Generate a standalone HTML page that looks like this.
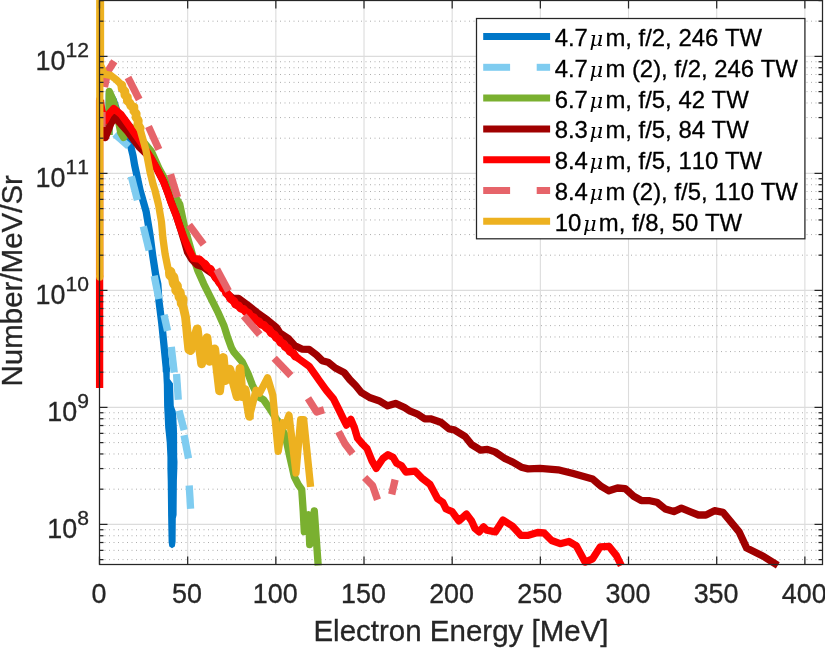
<!DOCTYPE html>
<html><head><meta charset="utf-8"><title>Electron spectra</title>
<style>html,body{margin:0;padding:0;background:#fff;}svg{display:block;}text{font-family:"Liberation Sans",sans-serif;font-kerning:none;fill:#262626;stroke:#262626;stroke-width:0.3px;}.lg{fill:#000;stroke:#000;stroke-width:0.3px;}.mu{font-family:"DejaVu Serif","Liberation Serif",serif;font-style:italic;stroke:none;font-size:21px;}</style>
</head><body>
<svg width="825" height="648" viewBox="0 0 825 648">
<rect width="825" height="648" fill="#fff"/>
<g stroke="#dcdcdc" stroke-width="1.1" fill="none">
<line x1="187.67" y1="0.5" x2="187.67" y2="564.5"/>
<line x1="275.84" y1="0.5" x2="275.84" y2="564.5"/>
<line x1="364.01" y1="0.5" x2="364.01" y2="564.5"/>
<line x1="452.18" y1="0.5" x2="452.18" y2="564.5"/>
<line x1="540.35" y1="0.5" x2="540.35" y2="564.5"/>
<line x1="628.52" y1="0.5" x2="628.52" y2="564.5"/>
<line x1="716.70" y1="0.5" x2="716.70" y2="564.5"/>
<line x1="804.87" y1="0.5" x2="804.87" y2="564.5"/>
<line x1="99.5" y1="524.40" x2="822.5" y2="524.40"/>
<line x1="99.5" y1="407.40" x2="822.5" y2="407.40"/>
<line x1="99.5" y1="290.40" x2="822.5" y2="290.40"/>
<line x1="99.5" y1="173.40" x2="822.5" y2="173.40"/>
<line x1="99.5" y1="56.40" x2="822.5" y2="56.40"/>
</g>
<g stroke="#adadad" stroke-width="1" stroke-dasharray="1 3.5" fill="none">
<line x1="104.5" y1="559.62" x2="822.5" y2="559.62"/>
<line x1="104.5" y1="550.36" x2="822.5" y2="550.36"/>
<line x1="104.5" y1="542.52" x2="822.5" y2="542.52"/>
<line x1="104.5" y1="535.74" x2="822.5" y2="535.74"/>
<line x1="104.5" y1="529.75" x2="822.5" y2="529.75"/>
<line x1="104.5" y1="489.18" x2="822.5" y2="489.18"/>
<line x1="104.5" y1="468.58" x2="822.5" y2="468.58"/>
<line x1="104.5" y1="453.96" x2="822.5" y2="453.96"/>
<line x1="104.5" y1="442.62" x2="822.5" y2="442.62"/>
<line x1="104.5" y1="433.36" x2="822.5" y2="433.36"/>
<line x1="104.5" y1="425.52" x2="822.5" y2="425.52"/>
<line x1="104.5" y1="418.74" x2="822.5" y2="418.74"/>
<line x1="104.5" y1="412.75" x2="822.5" y2="412.75"/>
<line x1="104.5" y1="372.18" x2="822.5" y2="372.18"/>
<line x1="104.5" y1="351.58" x2="822.5" y2="351.58"/>
<line x1="104.5" y1="336.96" x2="822.5" y2="336.96"/>
<line x1="104.5" y1="325.62" x2="822.5" y2="325.62"/>
<line x1="104.5" y1="316.36" x2="822.5" y2="316.36"/>
<line x1="104.5" y1="308.52" x2="822.5" y2="308.52"/>
<line x1="104.5" y1="301.74" x2="822.5" y2="301.74"/>
<line x1="104.5" y1="295.75" x2="822.5" y2="295.75"/>
<line x1="104.5" y1="255.18" x2="822.5" y2="255.18"/>
<line x1="104.5" y1="234.58" x2="822.5" y2="234.58"/>
<line x1="104.5" y1="219.96" x2="822.5" y2="219.96"/>
<line x1="104.5" y1="208.62" x2="822.5" y2="208.62"/>
<line x1="104.5" y1="199.36" x2="822.5" y2="199.36"/>
<line x1="104.5" y1="191.52" x2="822.5" y2="191.52"/>
<line x1="104.5" y1="184.74" x2="822.5" y2="184.74"/>
<line x1="104.5" y1="178.75" x2="822.5" y2="178.75"/>
<line x1="104.5" y1="138.18" x2="822.5" y2="138.18"/>
<line x1="104.5" y1="117.58" x2="822.5" y2="117.58"/>
<line x1="104.5" y1="102.96" x2="822.5" y2="102.96"/>
<line x1="104.5" y1="91.62" x2="822.5" y2="91.62"/>
<line x1="104.5" y1="82.36" x2="822.5" y2="82.36"/>
<line x1="104.5" y1="74.52" x2="822.5" y2="74.52"/>
<line x1="104.5" y1="67.74" x2="822.5" y2="67.74"/>
<line x1="104.5" y1="61.75" x2="822.5" y2="61.75"/>
<line x1="104.5" y1="21.18" x2="822.5" y2="21.18"/>
</g>
<polyline points="108.8,135.0 109.4,93.5 113.2,100.0 117.2,112.0 119.7,122.0 123.0,130.0 127.6,137.8 129.6,141.5 133.0,155.5 134.6,165.0 136.3,172.7 140.0,190.0 146.2,211.8 149.8,233.6 152.7,255.5 155.6,274.4 157.8,284.0 158.9,300.4 161.8,323.6 164.0,345.5 166.2,367.3 166.4,372.0" fill="none" stroke="#0077c8" stroke-width="7.3" stroke-linejoin="round" />
<polygon points="163.0,368.0 163.4,377.0 163.8,384.5 164.1,406.0 164.5,413.5 165.2,428.0 166.0,435.3 166.7,442.6 167.4,457.0 167.4,469.5 167.7,481.0 168.1,516.0 168.6,542.0 169.3,546.5 172.0,548.3 174.8,546.5 175.6,542.0 175.8,518.5 176.6,515.0 176.9,481.0 177.3,469.5 177.5,462.0 177.2,457.0 177.1,435.3 176.9,428.0 176.0,412.0 173.8,406.0 173.0,383.5 169.7,379.0 169.8,368.0" fill="#0077c8"/>
<polyline points="114.8,134.1 128.6,146.4" fill="none" stroke="#7fccf0" stroke-width="7.3" stroke-linejoin="round" />
<polyline points="131.3,176.4 137.4,200.2" fill="none" stroke="#7fccf0" stroke-width="7.3" stroke-linejoin="round" />
<polyline points="143.3,226.4 149.1,250.4" fill="none" stroke="#7fccf0" stroke-width="7.3" stroke-linejoin="round" />
<polyline points="154.2,275.8 158.9,298.9" fill="none" stroke="#7fccf0" stroke-width="7.3" stroke-linejoin="round" />
<polyline points="164.0,314.9 167.6,330.9" fill="none" stroke="#7fccf0" stroke-width="7.3" stroke-linejoin="round" />
<polyline points="171.3,346.9 174.2,372.5" fill="none" stroke="#7fccf0" stroke-width="7.3" stroke-linejoin="round" />
<polyline points="176.5,374.1 178.3,399.8" fill="none" stroke="#7fccf0" stroke-width="7.3" stroke-linejoin="round" />
<polyline points="179.0,410.6 184.1,430.2" fill="none" stroke="#7fccf0" stroke-width="7.3" stroke-linejoin="round" />
<polyline points="184.1,435.3 188.5,458.5" fill="none" stroke="#7fccf0" stroke-width="7.3" stroke-linejoin="round" />
<polyline points="189.2,485.5 190.6,508.7" fill="none" stroke="#7fccf0" stroke-width="7.3" stroke-linejoin="round" />
<polyline points="108.9,135.0 109.3,91.4 113.0,100.0 117.0,113.0 118.8,122.7 120.7,132.6 123.7,137.5 127.5,131.0 130.5,127.0 132.8,128.5 139.0,136.5 151.3,151.3 159.0,168.5 168.0,185.0 179.8,204.5 184.7,227.8 192.7,255.5 197.9,270.7 203.7,283.8 211.0,298.4 218.3,312.9 224.1,326.0 227.7,337.6 231.4,347.8 233.5,351.6 242.2,361.8 248.0,373.5 252.4,385.1 258.2,396.7 263.5,399.6 268.9,407.4 277.0,420.0 285.2,435.2 289.8,456.8 294.4,476.9 298.3,484.6 301.7,489.3 303.2,510.9 304.3,531.7 308.6,514.7 309.7,544.6 314.3,510.9 318.2,565.5" fill="none" stroke="#7ab030" stroke-width="7.3" stroke-linejoin="round" />
<polyline points="100.5,100.0 102.0,125.0 105.4,137.5 110.9,123.3 114.8,117.3 119.8,122.7 127.7,131.6 133.6,139.5 139.5,147.4 145.0,152.5 150.5,157.5 157.8,170.5 163.8,182.2 167.8,192.7 171.2,202.7 176.2,215.4 180.5,228.5 184.3,241.0 187.5,252.0 192.0,259.5 197.0,264.8 203.0,266.8 208.0,270.5 213.0,274.0 220.0,283.5 228.5,295.0 233.0,298.5 238.6,298.4 247.4,304.9 257.5,312.9 267.7,320.2 276.5,327.5 280.0,333.1 288.7,338.9 294.5,345.5 301.8,349.1 309.1,349.3 316.4,354.9 322.2,360.7 328.0,362.2 335.3,368.0 344.0,372.4 349.8,379.6 355.6,385.5 361.5,392.7 370.2,397.8 378.9,400.7 387.6,405.8 395.5,403.4 404.7,407.6 410.2,411.2 417.0,413.8 424.6,418.8 430.5,418.8 440.7,422.2 449.2,429.0 454.3,429.9 465.3,436.7 471.3,444.3 480.6,450.2 487.4,449.4 495.0,451.9 505.2,458.7 512.8,462.1 521.3,467.2 528.1,468.9 540.0,468.3 558.1,469.8 573.2,473.5 592.6,478.9 601.3,486.4 608.9,490.8 617.5,488.0 625.1,488.6 633.7,496.2 641.3,500.5 649.9,500.7 656.8,502.2 665.3,509.0 673.8,511.6 681.4,508.2 689.9,511.6 698.4,515.0 706.0,515.0 714.5,510.7 723.0,512.4 731.5,522.6 739.1,531.9 746.7,548.1 755.2,552.3 763.7,556.5 777.8,565.3" fill="none" stroke="#a00000" stroke-width="7.3" stroke-linejoin="round" />
<polyline points="99.6,388.0 99.6,100.0 102.5,113.0 105.0,121.0 108.5,114.5 113.8,108.5 121.1,114.5 128.4,124.7 135.6,134.9 142.9,145.1 150.2,156.7 157.5,169.8 163.5,181.5 167.5,192.0 171.0,202.0 176.0,214.7 180.4,227.8 184.7,239.5 189.1,249.6 193.5,258.4 199.3,259.1 205.1,264.2 212.5,272.2 219.7,282.4 228.5,295.5 235.7,304.2 245.9,311.5 256.1,320.2 266.3,327.5 276.5,337.6 285.2,346.4 295.4,356.0 298.9,358.9 309.1,366.2 316.4,376.4 318.9,380.0 326.2,390.2 333.5,398.9 339.3,410.5 343.6,419.3 346.5,425.1 350.9,419.3 354.5,428.0 357.5,438.2 362.5,444.0 367.0,448.5 372.0,460.9 376.3,468.3 382.9,458.5 388.0,454.7 393.0,457.2 396.7,463.3 401.6,465.8 405.9,472.0 415.2,471.2 421.6,477.8 430.0,484.4 437.6,498.8 442.7,502.2 446.1,509.0 452.1,511.6 458.8,520.9 466.5,514.1 471.6,520.9 475.0,528.5 479.2,531.9 483.5,526.8 486.8,530.2 495.3,531.9 503.0,520.1 512.3,526.0 520.8,535.3 528.4,535.3 537.6,532.5 544.0,532.9 551.6,540.5 560.2,543.7 568.9,541.5 576.4,545.9 585.1,562.1 592.6,558.8 600.2,546.9 608.9,546.3 616.4,555.6 621.3,565.5" fill="none" stroke="#ff0000" stroke-width="7.3" stroke-linejoin="round" />
<polyline points="205.1,264.2 207.1,267.3 210.5,269.1 212.3,272.4 214.8,274.4 215.6,277.6 218.4,279.5 219.5,282.6 222.0,284.7 222.7,288.0 225.5,289.9 226.2,293.2 228.7,295.3 230.4,298.8 233.8,300.9 235.5,304.4 238.6,305.5 240.5,308.3 243.7,309.2 245.7,311.7 248.8,313.2 250.6,316.3 253.9,317.6 255.9,320.4 259.0,321.5 260.9,324.3 264.1,325.2 266.1,327.7 269.3,329.6 271.0,333.0 274.4,334.6 276.3,337.8 279.1,339.4 280.4,342.4 283.5,343.8 285.0,346.6 288.2,348.4 289.9,351.6 293.3,353.2 295.2,356.2" fill="none" stroke="#ff0000" stroke-width="8.2" stroke-linejoin="round" stroke-linecap="round"/>
<polyline points="102.0,127.0 102.0,112.0" fill="none" stroke="#e6646a" stroke-width="7.3" stroke-linejoin="round" />
<polyline points="104.5,87.0 107.9,71.3 114.3,61.3" fill="none" stroke="#e6646a" stroke-width="7.3" stroke-linejoin="round" />
<polyline points="128.0,77.5 139.2,99.5" fill="none" stroke="#e6646a" stroke-width="7.3" stroke-linejoin="round" />
<polyline points="148.5,126.5 158.9,149.5" fill="none" stroke="#e6646a" stroke-width="7.3" stroke-linejoin="round" />
<polyline points="170.5,174.2 177.5,197.3" fill="none" stroke="#e6646a" stroke-width="7.3" stroke-linejoin="round" />
<polyline points="189.1,224.9 203.6,244.5" fill="none" stroke="#e6646a" stroke-width="7.3" stroke-linejoin="round" />
<polyline points="216.8,269.3 228.5,291.1" fill="none" stroke="#e6646a" stroke-width="7.3" stroke-linejoin="round" />
<polyline points="243.7,315.8 259.7,334.7" fill="none" stroke="#e6646a" stroke-width="7.3" stroke-linejoin="round" />
<polyline points="274.2,358.2 290.9,375.6" fill="none" stroke="#e6646a" stroke-width="7.3" stroke-linejoin="round" />
<polyline points="308.0,398.2 316.7,412.0 324.0,409.8" fill="none" stroke="#e6646a" stroke-width="7.3" stroke-linejoin="round" />
<polyline points="338.5,431.6 345.1,444.0 352.6,453.8" fill="none" stroke="#e6646a" stroke-width="7.3" stroke-linejoin="round" />
<polyline points="364.6,477.5 372.6,485.6 377.5,499.8" fill="none" stroke="#e6646a" stroke-width="7.3" stroke-linejoin="round" />
<polyline points="391.7,494.4 395.1,479.6" fill="none" stroke="#e6646a" stroke-width="7.3" stroke-linejoin="round" />
<polyline points="99.8,277.0 99.8,-10.0 100.5,-10.0 100.5,65.0 104.4,74.1 110.7,75.4 116.2,79.6 121.8,85.2 125.3,94.9 129.4,103.2 133.6,107.4 136.4,117.1 139.8,128.2 142.9,139.3 145.8,149.5 148.0,161.1 150.2,172.7 153.1,184.4 154.9,190.0 158.5,204.5 161.5,222.0 162.9,238.0 165.1,254.0 168.0,268.5 173.1,275.8 174.6,281.0 176.7,289.0 180.8,298.5 183.4,307.8 185.5,317.0 186.5,326.3 187.6,338.0 188.8,349.5 190.7,350.5 197.2,328.8 201.6,363.8 207.0,337.7 209.5,361.4 214.7,348.8 219.6,390.9 223.3,357.5 225.5,380.7 229.8,369.1 237.1,396.7 240.0,368.4 242.2,396.7 245.1,389.5 249.5,416.4 256.0,390.2 259.6,393.1 267.6,377.8 272.8,395.0 278.2,451.4 282.8,422.8 285.2,425.9 289.0,415.1 296.0,473.0 300.6,419.7 303.7,419.7 310.6,486.9" fill="none" stroke="#edb120" stroke-width="7.3" stroke-linejoin="round" />
<polyline points="180.8,298.5 183.4,307.8 185.5,317.0 186.5,326.3 187.6,338.0 188.8,349.5 190.7,350.5 197.2,328.8 201.6,363.8 207.0,337.7 209.5,361.4 214.7,348.8 219.6,390.9 223.3,357.5 225.5,380.7 229.8,369.1 237.1,396.7 240.0,368.4 242.2,396.7 245.1,389.5 249.5,416.4" fill="none" stroke="#edb120" stroke-width="8.8" stroke-linejoin="round" stroke-linecap="round"/>
<polyline points="121.8,85.2 122.2,88.7 124.9,91.4 124.9,95.0 127.4,97.3 127.3,100.8 129.8,103.0 130.9,105.9 133.9,107.1 133.8,110.9 136.2,113.6 136.0,117.2 138.3,120.6 137.9,124.7 140.2,128.1" fill="none" stroke="#edb120" stroke-width="8.8" stroke-linejoin="round" stroke-linecap="round"/>
<circle cx="99.8" cy="277" r="3.65" fill="#edb120"/>
<polyline points="170.2,272.0 170.5,275.1 173.1,277.3 174.1,283.2 176.7,286.2 176.5,290.2 179.5,292.8 179.8,296.7 182.3,299.4 182.0,303.2" fill="none" stroke="#edb120" stroke-width="10.5" stroke-linejoin="round" stroke-linecap="round"/>
<g stroke="#262626" stroke-width="1.25" fill="none">
<rect x="99.5" y="0.5" width="723.0" height="564.0"/>
<line x1="99.50" y1="564.5" x2="99.50" y2="556.5"/>
<line x1="99.50" y1="0.5" x2="99.50" y2="8.5"/>
<line x1="187.67" y1="564.5" x2="187.67" y2="556.5"/>
<line x1="187.67" y1="0.5" x2="187.67" y2="8.5"/>
<line x1="275.84" y1="564.5" x2="275.84" y2="556.5"/>
<line x1="275.84" y1="0.5" x2="275.84" y2="8.5"/>
<line x1="364.01" y1="564.5" x2="364.01" y2="556.5"/>
<line x1="364.01" y1="0.5" x2="364.01" y2="8.5"/>
<line x1="452.18" y1="564.5" x2="452.18" y2="556.5"/>
<line x1="452.18" y1="0.5" x2="452.18" y2="8.5"/>
<line x1="540.35" y1="564.5" x2="540.35" y2="556.5"/>
<line x1="540.35" y1="0.5" x2="540.35" y2="8.5"/>
<line x1="628.52" y1="564.5" x2="628.52" y2="556.5"/>
<line x1="628.52" y1="0.5" x2="628.52" y2="8.5"/>
<line x1="716.70" y1="564.5" x2="716.70" y2="556.5"/>
<line x1="716.70" y1="0.5" x2="716.70" y2="8.5"/>
<line x1="804.87" y1="564.5" x2="804.87" y2="556.5"/>
<line x1="804.87" y1="0.5" x2="804.87" y2="8.5"/>
<line x1="99.5" y1="559.62" x2="103.5" y2="559.62"/>
<line x1="822.5" y1="559.62" x2="818.5" y2="559.62"/>
<line x1="99.5" y1="550.36" x2="103.5" y2="550.36"/>
<line x1="822.5" y1="550.36" x2="818.5" y2="550.36"/>
<line x1="99.5" y1="542.52" x2="103.5" y2="542.52"/>
<line x1="822.5" y1="542.52" x2="818.5" y2="542.52"/>
<line x1="99.5" y1="535.74" x2="103.5" y2="535.74"/>
<line x1="822.5" y1="535.74" x2="818.5" y2="535.74"/>
<line x1="99.5" y1="529.75" x2="103.5" y2="529.75"/>
<line x1="822.5" y1="529.75" x2="818.5" y2="529.75"/>
<line x1="99.5" y1="524.40" x2="107.5" y2="524.40"/>
<line x1="822.5" y1="524.40" x2="814.5" y2="524.40"/>
<line x1="99.5" y1="489.18" x2="103.5" y2="489.18"/>
<line x1="822.5" y1="489.18" x2="818.5" y2="489.18"/>
<line x1="99.5" y1="468.58" x2="103.5" y2="468.58"/>
<line x1="822.5" y1="468.58" x2="818.5" y2="468.58"/>
<line x1="99.5" y1="453.96" x2="103.5" y2="453.96"/>
<line x1="822.5" y1="453.96" x2="818.5" y2="453.96"/>
<line x1="99.5" y1="442.62" x2="103.5" y2="442.62"/>
<line x1="822.5" y1="442.62" x2="818.5" y2="442.62"/>
<line x1="99.5" y1="433.36" x2="103.5" y2="433.36"/>
<line x1="822.5" y1="433.36" x2="818.5" y2="433.36"/>
<line x1="99.5" y1="425.52" x2="103.5" y2="425.52"/>
<line x1="822.5" y1="425.52" x2="818.5" y2="425.52"/>
<line x1="99.5" y1="418.74" x2="103.5" y2="418.74"/>
<line x1="822.5" y1="418.74" x2="818.5" y2="418.74"/>
<line x1="99.5" y1="412.75" x2="103.5" y2="412.75"/>
<line x1="822.5" y1="412.75" x2="818.5" y2="412.75"/>
<line x1="99.5" y1="407.40" x2="107.5" y2="407.40"/>
<line x1="822.5" y1="407.40" x2="814.5" y2="407.40"/>
<line x1="99.5" y1="372.18" x2="103.5" y2="372.18"/>
<line x1="822.5" y1="372.18" x2="818.5" y2="372.18"/>
<line x1="99.5" y1="351.58" x2="103.5" y2="351.58"/>
<line x1="822.5" y1="351.58" x2="818.5" y2="351.58"/>
<line x1="99.5" y1="336.96" x2="103.5" y2="336.96"/>
<line x1="822.5" y1="336.96" x2="818.5" y2="336.96"/>
<line x1="99.5" y1="325.62" x2="103.5" y2="325.62"/>
<line x1="822.5" y1="325.62" x2="818.5" y2="325.62"/>
<line x1="99.5" y1="316.36" x2="103.5" y2="316.36"/>
<line x1="822.5" y1="316.36" x2="818.5" y2="316.36"/>
<line x1="99.5" y1="308.52" x2="103.5" y2="308.52"/>
<line x1="822.5" y1="308.52" x2="818.5" y2="308.52"/>
<line x1="99.5" y1="301.74" x2="103.5" y2="301.74"/>
<line x1="822.5" y1="301.74" x2="818.5" y2="301.74"/>
<line x1="99.5" y1="295.75" x2="103.5" y2="295.75"/>
<line x1="822.5" y1="295.75" x2="818.5" y2="295.75"/>
<line x1="99.5" y1="290.40" x2="107.5" y2="290.40"/>
<line x1="822.5" y1="290.40" x2="814.5" y2="290.40"/>
<line x1="99.5" y1="255.18" x2="103.5" y2="255.18"/>
<line x1="822.5" y1="255.18" x2="818.5" y2="255.18"/>
<line x1="99.5" y1="234.58" x2="103.5" y2="234.58"/>
<line x1="822.5" y1="234.58" x2="818.5" y2="234.58"/>
<line x1="99.5" y1="219.96" x2="103.5" y2="219.96"/>
<line x1="822.5" y1="219.96" x2="818.5" y2="219.96"/>
<line x1="99.5" y1="208.62" x2="103.5" y2="208.62"/>
<line x1="822.5" y1="208.62" x2="818.5" y2="208.62"/>
<line x1="99.5" y1="199.36" x2="103.5" y2="199.36"/>
<line x1="822.5" y1="199.36" x2="818.5" y2="199.36"/>
<line x1="99.5" y1="191.52" x2="103.5" y2="191.52"/>
<line x1="822.5" y1="191.52" x2="818.5" y2="191.52"/>
<line x1="99.5" y1="184.74" x2="103.5" y2="184.74"/>
<line x1="822.5" y1="184.74" x2="818.5" y2="184.74"/>
<line x1="99.5" y1="178.75" x2="103.5" y2="178.75"/>
<line x1="822.5" y1="178.75" x2="818.5" y2="178.75"/>
<line x1="99.5" y1="173.40" x2="107.5" y2="173.40"/>
<line x1="822.5" y1="173.40" x2="814.5" y2="173.40"/>
<line x1="99.5" y1="138.18" x2="103.5" y2="138.18"/>
<line x1="822.5" y1="138.18" x2="818.5" y2="138.18"/>
<line x1="99.5" y1="117.58" x2="103.5" y2="117.58"/>
<line x1="822.5" y1="117.58" x2="818.5" y2="117.58"/>
<line x1="99.5" y1="102.96" x2="103.5" y2="102.96"/>
<line x1="822.5" y1="102.96" x2="818.5" y2="102.96"/>
<line x1="99.5" y1="91.62" x2="103.5" y2="91.62"/>
<line x1="822.5" y1="91.62" x2="818.5" y2="91.62"/>
<line x1="99.5" y1="82.36" x2="103.5" y2="82.36"/>
<line x1="822.5" y1="82.36" x2="818.5" y2="82.36"/>
<line x1="99.5" y1="74.52" x2="103.5" y2="74.52"/>
<line x1="822.5" y1="74.52" x2="818.5" y2="74.52"/>
<line x1="99.5" y1="67.74" x2="103.5" y2="67.74"/>
<line x1="822.5" y1="67.74" x2="818.5" y2="67.74"/>
<line x1="99.5" y1="61.75" x2="103.5" y2="61.75"/>
<line x1="822.5" y1="61.75" x2="818.5" y2="61.75"/>
<line x1="99.5" y1="56.40" x2="107.5" y2="56.40"/>
<line x1="822.5" y1="56.40" x2="814.5" y2="56.40"/>
<line x1="99.5" y1="21.18" x2="103.5" y2="21.18"/>
<line x1="822.5" y1="21.18" x2="818.5" y2="21.18"/>
<line x1="99.5" y1="0.58" x2="103.5" y2="0.58"/>
<line x1="822.5" y1="0.58" x2="818.5" y2="0.58"/>
</g>
<text x="98.90" y="603.2" font-size="26.9" text-anchor="middle">0</text>
<text x="187.07" y="603.2" font-size="26.9" text-anchor="middle">50</text>
<text x="275.24" y="603.2" font-size="26.9" text-anchor="middle">100</text>
<text x="363.41" y="603.2" font-size="26.9" text-anchor="middle">150</text>
<text x="451.58" y="603.2" font-size="26.9" text-anchor="middle">200</text>
<text x="539.75" y="603.2" font-size="26.9" text-anchor="middle">250</text>
<text x="627.92" y="603.2" font-size="26.9" text-anchor="middle">300</text>
<text x="716.10" y="603.2" font-size="26.9" text-anchor="middle">350</text>
<text x="804.27" y="603.2" font-size="26.9" text-anchor="middle">400</text>
<text x="89" y="538.20" font-size="26.9" text-anchor="end">10<tspan font-size="21.1" dy="-13.4">8</tspan></text>
<text x="89" y="421.20" font-size="26.9" text-anchor="end">10<tspan font-size="21.1" dy="-13.4">9</tspan></text>
<text x="89" y="304.20" font-size="26.9" text-anchor="end">10<tspan font-size="21.1" dy="-13.4">10</tspan></text>
<text x="89" y="187.20" font-size="26.9" text-anchor="end">10<tspan font-size="21.1" dy="-13.4">11</tspan></text>
<text x="89" y="70.20" font-size="26.9" text-anchor="end">10<tspan font-size="21.1" dy="-13.4">12</tspan></text>
<text x="461" y="641" font-size="29.5" text-anchor="middle">Electron Energy [MeV]</text>
<text transform="translate(22.3,280.8) rotate(-90)" font-size="29.5" text-anchor="middle">Number/MeV/Sr</text>
<rect x="476.5" y="18.5" width="328.4" height="220.3" fill="#fff" stroke="#262626" stroke-width="1.25"/>
<line x1="483.2" y1="36.50" x2="550.1" y2="36.50" stroke="#0077c8" stroke-width="7"/>
<text class="lg" x="554.7" y="46.00" font-size="23.9">4.7<tspan class="mu" dx="1.6">μ</tspan><tspan dx="2.2">m, f/2, 246 TW</tspan></text>
<line x1="483.2" y1="67.30" x2="510.1" y2="67.30" stroke="#7fccf0" stroke-width="7"/>
<line x1="536.7" y1="67.30" x2="550.1" y2="67.30" stroke="#7fccf0" stroke-width="7"/>
<text class="lg" x="554.7" y="76.80" font-size="23.9">4.7<tspan class="mu" dx="1.6">μ</tspan><tspan dx="2.2">m (2), f/2, 246 TW</tspan></text>
<line x1="483.2" y1="98.10" x2="550.1" y2="98.10" stroke="#7ab030" stroke-width="7"/>
<text class="lg" x="554.7" y="107.60" font-size="23.9">6.7<tspan class="mu" dx="1.6">μ</tspan><tspan dx="2.2">m, f/5, 42 TW</tspan></text>
<line x1="483.2" y1="128.90" x2="550.1" y2="128.90" stroke="#a00000" stroke-width="7"/>
<text class="lg" x="554.7" y="138.40" font-size="23.9">8.3<tspan class="mu" dx="1.6">μ</tspan><tspan dx="2.2">m, f/5, 84 TW</tspan></text>
<line x1="483.2" y1="159.70" x2="550.1" y2="159.70" stroke="#ff0000" stroke-width="7"/>
<text class="lg" x="554.7" y="169.20" font-size="23.9">8.4<tspan class="mu" dx="1.6">μ</tspan><tspan dx="2.2">m, f/5, 110 TW</tspan></text>
<line x1="483.2" y1="190.50" x2="510.1" y2="190.50" stroke="#e6646a" stroke-width="7"/>
<line x1="536.7" y1="190.50" x2="550.1" y2="190.50" stroke="#e6646a" stroke-width="7"/>
<text class="lg" x="554.7" y="200.00" font-size="23.9">8.4<tspan class="mu" dx="1.6">μ</tspan><tspan dx="2.2">m (2), f/5, 110 TW</tspan></text>
<line x1="483.2" y1="221.30" x2="550.1" y2="221.30" stroke="#edb120" stroke-width="7"/>
<text class="lg" x="554.7" y="230.80" font-size="23.9">10<tspan class="mu" dx="1.6">μ</tspan><tspan dx="2.2">m, f/8, 50 TW</tspan></text>
</svg></body></html>
